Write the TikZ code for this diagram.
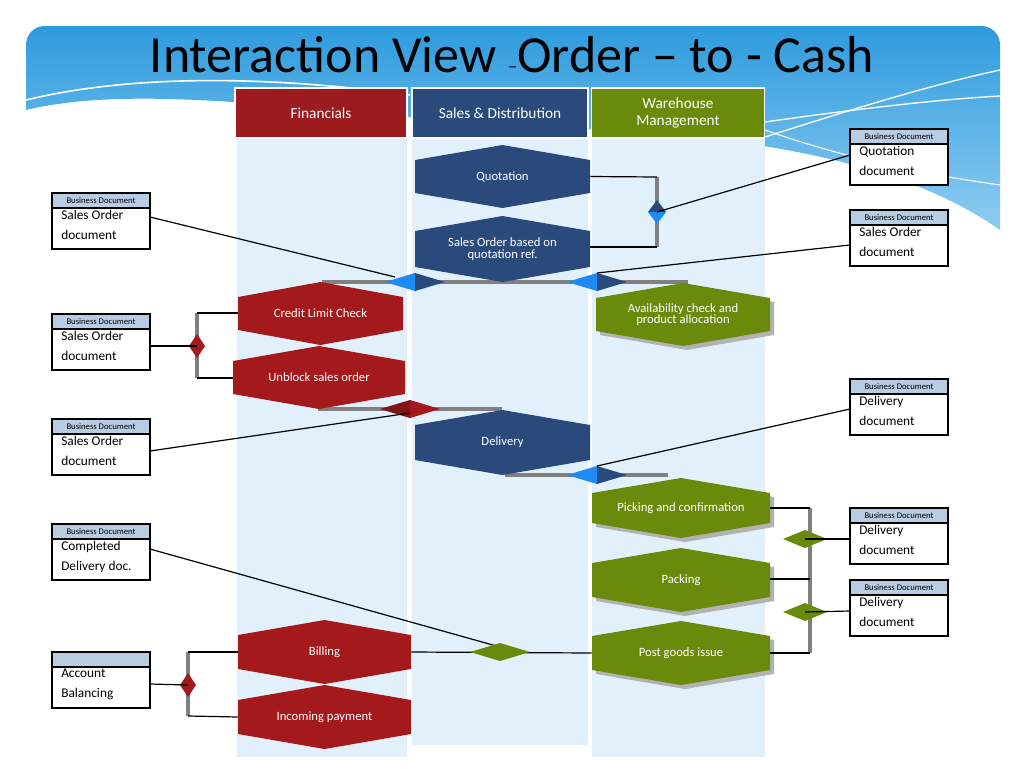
\documentclass[tikz,border=0pt]{standalone}
\usepackage{fontspec}
\setmainfont{Carlito}
\usetikzlibrary{calc}
\definecolor{fin}{HTML}{A3191C}
\definecolor{finh}{HTML}{9B1B1E}
\definecolor{sd}{HTML}{2B4A7C}
\definecolor{wm}{HTML}{6A8A0C}
\definecolor{lane}{HTML}{E1F0FB}
\definecolor{lb}{HTML}{1E8BF5}
\definecolor{bdh}{HTML}{B8CCE4}
\definecolor{bar}{HTML}{808080}
\definecolor{bn1}{HTML}{2E9BDD}
\definecolor{bn2}{HTML}{8FCDF2}
\tikzset{
  txt/.style={text=white,font=\fontsize{9.5}{10.5}\selectfont,align=center},
  hdr/.style={text=white,font=\fontsize{11.5}{13}\selectfont,align=center,draw=white,line width=1pt},
  gbar/.style={draw=bar,line width=3pt},
  conn/.style={draw=black,line width=0.9pt},
}
% name, x1, x2, ytop, ybot, colour, text
\newcommand\hexa[7]{%
  \path[fill=#6] (#2,#4+15) -- ({(#2+#3)/2},#4) -- (#3,#4+15) -- (#3,#5-15) -- ({(#2+#3)/2},#5) -- (#2,#5-15) -- cycle;
  \node[txt,minimum width={(#3-#2)*0.75pt},minimum height={(#5-#4)*0.75pt},inner sep=0pt] (#1) at ({(#2+#3)/2},{(#4+#5)/2}) {#7};}
\newcommand\hshadow[4]{%
  \path[fill=gray!60] (#1+4,#3+19) -- ({(#1+#2)/2+4},#3+4) -- (#2+4,#3+19) -- (#2+4,#4-11) -- ({(#1+#2)/2+4},#4+4) -- (#1+4,#4-11) -- cycle;}
% business doc: name, x, ytop, header, line1, line2
\newcommand\bdoc[6]{%
  \path[fill=white,draw=black,line width=1.2pt] (#2,#3) rectangle (#2+98,#3+56);
  \path[fill=bdh,draw=black,line width=1.2pt] (#2,#3) rectangle (#2+98,#3+15);
  \node[font=\fontsize{6.5}{7}\selectfont,inner sep=0pt] at (#2+49,#3+7.5) {#4};
  \node[font=\fontsize{10}{15}\selectfont,align=left,anchor=north west,inner sep=0pt] at (#2+9,#3+17) {#5\\#6};
  \coordinate (#1W) at (#2,#3+32); \coordinate (#1E) at (#2+98,#3+32);}
% horizontal two-tone diamond: name, cx, cy, left colour, right colour
\newcommand\hdia[5]{%
  \path[fill=#4] (#2-30,#3) -- (#2,#3-9) -- (#2,#3+9) -- cycle;
  \path[fill=#5] (#2+30,#3) -- (#2,#3-9) -- (#2,#3+9) -- cycle;
  \coordinate (#1) at (#2,#3);}
\begin{document}
\begin{tikzpicture}[x=0.75pt,y=-0.75pt]
\useasboundingbox (0,0) rectangle (1024,768);
\fill[white] (0,0) rectangle (1024,768);
% banner
\shade[top color=bn1,bottom color=bn2] [rounded corners=14] (26,110) -- (26,26) -- (1000,26) [sharp corners] -- (1000,230)
  .. controls (900,160) and (750,135) .. (560,128) .. controls (350,118) and (150,80) .. (26,110) -- cycle;
\draw[white,line width=1.2pt] (26,100) .. controls (150,70) and (300,80) .. (410,95);
\draw[white,line width=1pt] (765,137) .. controls (850,110) and (930,85) .. (1000,70);
\draw[white,line width=1pt] (765,122) .. controls (850,110) and (930,100) .. (1000,96);
\draw[white,line width=0.8pt] (765,130) .. controls (850,160) and (930,175) .. (1000,185);
\node[font=\fontsize{39}{42}\selectfont] (title) at (512,55) {Interaction View {\fontsize{14}{14}\selectfont –}Order – to - Cash};
% lanes
\fill[lane] (237,138) rectangle (407,757);
\fill[lane] (412,138) rectangle (588,745);
\fill[lane] (592,138) rectangle (765,757);
\node[hdr,fill=finh,minimum width=129pt,minimum height=37.5pt] (hF) at (321,113) {Financials};
\node[hdr,fill=sd,minimum width=132pt,minimum height=37.5pt] (hS) at (500,113) {Sales \& Distribution};
\node[hdr,fill=wm,minimum width=130pt,minimum height=37.5pt] (hW) at (678,113) {Warehouse\\Management};
% gray bars
\draw[gbar] (322,282) -- (688,282);
\draw[gbar] (318,409) -- (502,409);
\draw[gbar] (505,475) -- (668,475);
\draw[gbar] (657,177) -- (657,247);
\draw[gbar] (197,313) -- (197,378);
\draw[gbar] (810,508) -- (810,653);
\draw[gbar] (188,652) -- (188,716);
% shadows
\hshadow{596}{770}{283}{346}
\hshadow{592}{770}{478}{538}
\hshadow{592}{770}{548}{612}
\hshadow{592}{770}{621}{685}
% hexagons
\hexa{quo}{415}{590}{145}{208}{sd}{Quotation}
\hexa{so}{415}{590}{216}{282}{sd}{Sales Order based on\\[-2pt]quotation ref.}
\hexa{clc}{238}{403}{282}{345}{fin}{Credit Limit Check}
\hexa{ub}{233}{405}{346}{409}{fin}{Unblock sales order}
\hexa{del}{415}{590}{410}{475}{sd}{Delivery}
\hexa{av}{596}{770}{283}{346}{wm}{Availability check and\\[-2pt]product allocation}
\hexa{pick}{592}{770}{478}{538}{wm}{Picking and confirmation}
\hexa{pack}{592}{770}{548}{612}{wm}{Packing}
\hexa{pgi}{592}{770}{621}{685}{wm}{Post goods issue}
\hexa{bil}{238}{411}{620}{684}{fin}{Billing}
\hexa{inc}{238}{411}{685}{749}{fin}{Incoming payment}
% diamonds
\hdia{d1}{415}{282}{lb}{sd}
\hdia{d2}{597}{282}{lb}{sd}
\hdia{d3}{410}{409}{fin!80!black}{fin}
\hdia{d4}{597}{475}{lb}{sd}
\path[fill=wm] (783,539) -- (805,530) -- (827,539) -- (805,548) -- cycle; \coordinate (d6) at (805,539);
\path[fill=wm] (783,612) -- (805,603) -- (827,612) -- (805,621) -- cycle; \coordinate (d7) at (805,612);
\path[fill=sd] (648,212) -- (657,200) -- (666,212) -- cycle;
\path[fill=lb] (648,212) -- (657,224) -- (666,212) -- cycle; \coordinate (d8) at (657,212);
\path[fill=fin] (189,346) -- (197,334) -- (205,346) -- (197,358) -- cycle; \coordinate (d9) at (197,346);
\path[fill=fin] (180,685) -- (188,673) -- (196,685) -- (188,697) -- cycle; \coordinate (d10) at (188,685);
% business documents
\bdoc{b1}{52}{193}{Business Document}{Sales Order}{document}
\bdoc{b2}{52}{314}{Business Document}{Sales Order}{document}
\bdoc{b3}{52}{419}{Business Document}{Sales Order}{document}
\bdoc{b4}{52}{524}{Business Document}{Completed}{Delivery doc.}
\bdoc{b5}{52}{652}{}{Account}{Balancing}
\bdoc{r1}{850}{129}{Business Document}{Quotation}{document}
\bdoc{r2}{850}{210}{Business Document}{Sales Order}{document}
\bdoc{r3}{850}{379}{Business Document}{Delivery}{document}
\bdoc{r4}{850}{508}{Business Document}{Delivery}{document}
\bdoc{r5}{850}{580}{Business Document}{Delivery}{document}
% connectors
\draw[conn] (quo.east) -- (657,177);
\draw[conn] (so.east |- 0,247) -- (657,247);
\draw[conn] (d8) -- ($(r1W)+(0,-6)$);
\draw[conn] ($(b1E)+(0,-8)$) -- ($(d1)+(-20,-5)$);
\draw[conn] ($(r2W)+(0,3)$) -- ($(d2)+(0,-9)$);
\draw[conn] (b2E) -- (d9);
\draw[conn] (clc.west |- 0,313) -- (197,313);
\draw[conn] (ub.west |- 0,378) -- (197,378);
\draw[conn] (b3E) -- ($(d3)+(0,4)$);
\draw[conn] ($(r3W)+(0,-2)$) -- ($(d4)+(0,-9)$);
\draw[conn] (pick.east |- 0,508) -- (810,508);
\draw[conn] (pack.east |- 0,579) -- (810,579);
\draw[conn] (pgi.east |- 0,653) -- (810,653);
\draw[conn] (d6) -- ($(r4W)+(0,-1)$);
\draw[conn] (d7) -- ($(r5W)+(0,-1)$);
\draw[conn] (bil.east) -- (pgi.west);
\draw[conn] ($(b4E)+(0,-7)$) -- (500,647);
\draw[conn] (b5E) -- (d10);
\draw[conn] (bil.west) -- (188,652);
\draw[conn] (inc.west) -- (188,716);
\hdia{d5}{500}{652}{wm}{wm}
\end{tikzpicture}
\end{document}
